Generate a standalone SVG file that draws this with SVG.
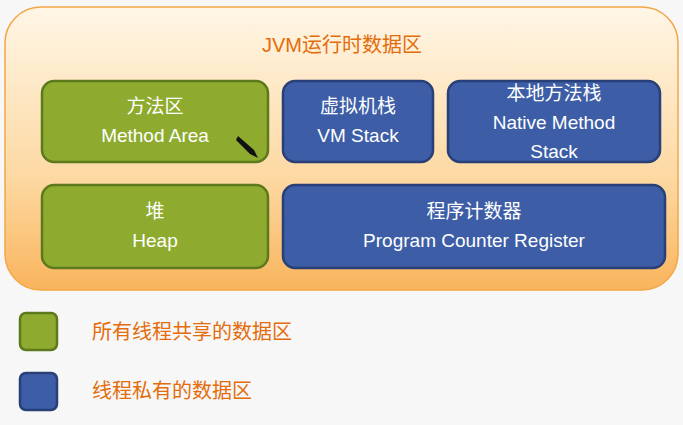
<svg xmlns="http://www.w3.org/2000/svg" width="683" height="425" viewBox="0 0 683 425">
<defs>
<linearGradient id="og" x1="0" y1="0" x2="0" y2="1">
<stop offset="0" stop-color="#fff6e6"/>
<stop offset="0.6" stop-color="#fdd9a3"/>
<stop offset="1" stop-color="#f9b45c"/>
</linearGradient>
<style>
.g{fill:#8eab2f;stroke:#5c7a1c;stroke-width:2.5}
.b{fill:#3d5ea6;stroke:#283f78;stroke-width:2.5}
.t{font-family:"Liberation Sans","Noto Sans CJK SC",sans-serif;font-size:19px;fill:#fff;text-anchor:middle}
.o{font-family:"Liberation Sans","Noto Sans CJK SC",sans-serif;font-size:20px;fill:#e46c0a}
</style>
</defs>
<rect width="683" height="425" fill="#f7f7f7"/>
<g id="jvm">
<rect x="5" y="7" width="673" height="283" rx="36" fill="url(#og)" stroke="#f4a646" stroke-width="1.5"/>
<text class="o" x="342" y="52" text-anchor="middle">JVM运行时数据区</text>
</g>
<g id="method-area">
<rect class="g" x="42" y="81" width="226" height="81" rx="12"/>
<text class="t" x="155" y="113">方法区</text>
<text class="t" x="155" y="142">Method Area</text>
<path d="M238,136 L254,150 L258,158 L250,154 L236,140 Z" fill="#111"/>
</g>
<g id="vm-stack">
<rect class="b" x="283" y="81" width="150" height="81" rx="12"/>
<text class="t" x="358" y="113">虚拟机栈</text>
<text class="t" x="358" y="142">VM Stack</text>
</g>
<g id="native-stack">
<rect class="b" x="448" y="81" width="212" height="81" rx="12"/>
<text class="t" x="554" y="100">本地方法栈</text>
<text class="t" x="554" y="129">Native Method</text>
<text class="t" x="554" y="158">Stack</text>
</g>
<g id="heap">
<rect class="g" x="42" y="185" width="226" height="83" rx="12"/>
<text class="t" x="155" y="218">堆</text>
<text class="t" x="155" y="247">Heap</text>
</g>
<g id="pc">
<rect class="b" x="283" y="185" width="382" height="83" rx="12"/>
<text class="t" x="474" y="218">程序计数器</text>
<text class="t" x="474" y="247">Program Counter Register</text>
</g>
<g id="connectors"></g>
<g id="legend-shared">
<rect class="g" x="20" y="313" width="37" height="37" rx="6"/>
<text class="o" x="92" y="339">所有线程共享的数据区</text>
</g>
<g id="legend-private">
<rect class="b" x="20" y="373" width="37" height="37" rx="6"/>
<text class="o" x="92" y="398">线程私有的数据区</text>
</g>
</svg>
